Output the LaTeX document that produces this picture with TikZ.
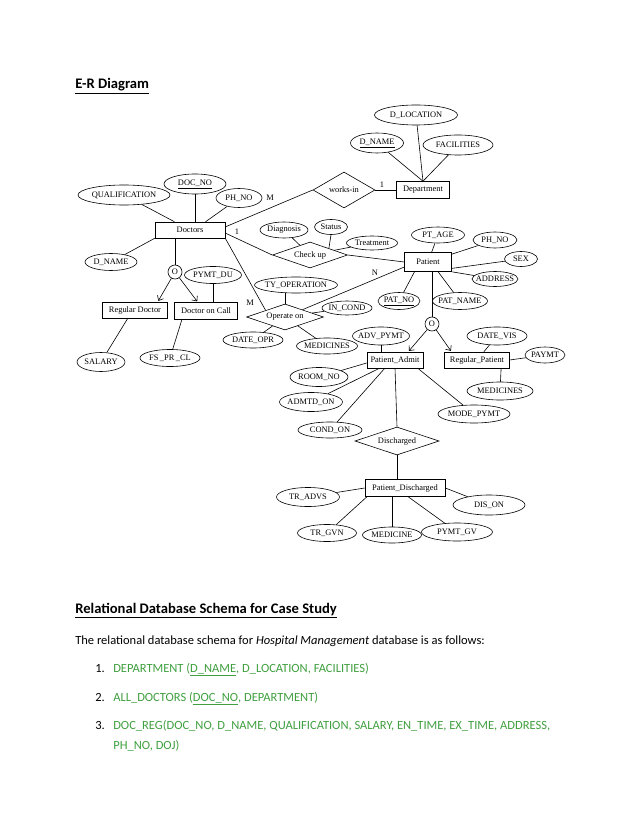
\documentclass[tikz,border=0pt]{standalone}
\usepackage{fontspec}
\setmainfont{Carlito}
\newfontfamily\erfont{Liberation Serif}
\usetikzlibrary{positioning, shapes.geometric, arrows.meta}
\definecolor{schemagreen}{RGB}{64,160,64}

\begin{document}
\begin{tikzpicture}[x=1pt, y=-1pt, line width=0.6pt,
  ER/.style={font=\erfont\fontsize{8.4pt}{10pt}\selectfont},
  Ent/.style={ER, draw, rectangle, inner sep=0pt},
  Attr/.style={ER, draw, ellipse, inner xsep=-10pt, inner ysep=0pt},
  Rel/.style={ER, draw, diamond, aspect=3, inner sep=0pt},
  Disj/.style={ER, draw, circle, inner sep=0pt, minimum size=14pt},
  Card/.style={ER, inner sep=0pt},
  Sub/.style={-{Straight Barb[length=4pt, width=7pt]}, shorten >=1pt},
  Txt/.style={anchor=base west, inner sep=0pt, font=\fontsize{12.5pt}{15pt}\selectfont},
  Head/.style={anchor=base west, inner sep=0pt, font=\bfseries\fontsize{14.6pt}{17pt}\selectfont}]
  \path[use as bounding box, fill=white] (0,0) rectangle (638,826);

  % page text
  \node[Head] (ERHead) at (75,89) {\underline{E-R Diagram}};
  \node[Head] (SchemaHead) at (75,613) {\underline{Relational Database Schema for Case Study}};
  \node[Txt] (Intro) at (75,644) {The relational database schema for \textit{Hospital Management} database is as follows:};
  \node[Txt] (Num1) at (95,672) {1.};
  \node[Txt, text=schemagreen] (Rel1) at (113,672) {DEPARTMENT (\underline{D\_NAME}, D\_LOCATION, FACILITIES)};
  \node[Txt] (Num2) at (95,701) {2.};
  \node[Txt, text=schemagreen] (Rel2) at (113,701) {ALL\_DOCTORS (\underline{DOC\_NO}, DEPARTMENT)};
  \node[Txt] (Num3) at (95,729) {3.};
  \node[Txt, text=schemagreen] (Rel3) at (113,729) {DOC\_REG(DOC\_NO, D\_NAME, QUALIFICATION, SALARY, EN\_TIME, EX\_TIME, ADDRESS,};
  \node[Txt, text=schemagreen] (Rel3b) at (113,749) {PH\_NO, DOJ)};

  % entities
  \node[Ent, minimum width=70pt, minimum height=16pt] (Doc) at (190,230) {Doctors};
  \node[Ent, minimum width=53pt, minimum height=17pt] (Dept) at (423,190) {Department};
  \node[Ent, minimum width=65pt, minimum height=16pt] (RegDoc) at (135,310) {Regular Doctor};
  \node[Ent, minimum width=63pt, minimum height=17pt] (OnCall) at (206,311) {Doctor on Call};
  \node[Ent, minimum width=47pt, minimum height=19pt] (Pat) at (428,262) {Patient};
  \node[Ent, minimum width=56pt, minimum height=16pt] (PAdmit) at (395,360) {Patient\_Admit};
  \node[Ent, minimum width=65pt, minimum height=16pt] (RegPat) at (477,360) {Regular\_Patient};
  \node[Ent, minimum width=80pt, minimum height=17pt] (PDis) at (405,488) {Patient\_Discharged};

  % relationships
  \node[Rel, minimum width=62pt, minimum height=36pt] (WorksIn) at (344,190) {works-in};
  \node[Rel, minimum width=75pt, minimum height=26pt] (CheckUp) at (310,255) {Check up};
  \node[Rel, minimum width=77pt, minimum height=26pt] (OperOn) at (285,317) {Operate on};
  \node[Rel, minimum width=84pt, minimum height=28pt] (Disch) at (397,441) {Discharged};
  \node[Disj] (ODoc) at (175,272) {O};
  \node[Disj] (OPat) at (432,324) {O};

  % attributes
  \node[Attr, minimum width=62pt, minimum height=20pt] (DocNo) at (195,184) {\underline{DOC\_NO}};
  \node[Attr, minimum width=92pt, minimum height=20pt] (Qual) at (124,195) {QUALIFICATION};
  \node[Attr, minimum width=46pt, minimum height=19pt] (PhNo) at (239,198) {PH\_NO};
  \node[Attr, minimum width=83pt, minimum height=20pt] (DLoc) at (416,115) {D\_LOCATION};
  \node[Attr, minimum width=53pt, minimum height=20pt] (DName) at (377,143) {\underline{D\_NAME}};
  \node[Attr, minimum width=70pt, minimum height=20pt] (Facil) at (458,145) {FACILITIES};
  \node[Attr, minimum width=52pt, minimum height=17pt] (DocName) at (111,262) {D\_NAME};
  \node[Attr, minimum width=57pt, minimum height=17pt] (PymtDu) at (213,275) {PYMT\_DU};
  \node[Attr, minimum width=48pt, minimum height=19pt] (Salary) at (101,362) {SALARY};
  \node[Attr, minimum width=60pt, minimum height=17pt] (FsPrCl) at (170,358) {FS\,\_PR\,\_CL};
  \node[Attr, minimum width=48pt, minimum height=16pt] (Diag) at (284,230) {Diagnosis};
  \node[Attr, minimum width=33pt, minimum height=15pt] (Status) at (331,227) {Status};
  \node[Attr, minimum width=51pt, minimum height=14pt] (Treat) at (372,243) {Treatment};
  \node[Attr, minimum width=83pt, minimum height=16pt] (TyOp) at (296,285) {TY\_OPERATION};
  \node[Attr, minimum width=60pt, minimum height=16pt] (DateOpr) at (253,340) {DATE\_OPR};
  \node[Attr, minimum width=61pt, minimum height=16pt] (MedOp) at (327,346) {MEDICINES};
  \node[Attr, minimum width=50pt, minimum height=14pt] (InCond) at (347,308) {IN\_COND};
  \node[Attr, minimum width=53pt, minimum height=16pt] (PtAge) at (438,235) {PT\_AGE};
  \node[Attr, minimum width=44pt, minimum height=16pt] (PatPh) at (495,240) {PH\_NO};
  \node[Attr, minimum width=33pt, minimum height=15pt] (Sex) at (521,259) {SEX};
  \node[Attr, minimum width=46pt, minimum height=15pt] (Addr) at (495,279) {ADDRESS};
  \node[Attr, minimum width=42pt, minimum height=17pt] (PatNo) at (399,301) {\underline{PAT\_NO}};
  \node[Attr, minimum width=55pt, minimum height=17pt] (PatName) at (460,301) {PAT\_NAME};
  \node[Attr, minimum width=57pt, minimum height=18pt] (AdvPymt) at (381,336) {ADV\_PYMT};
  \node[Attr, minimum width=60pt, minimum height=18pt] (DateVis) at (497,336) {DATE\_VIS};
  \node[Attr, minimum width=40pt, minimum height=16pt] (Paymt) at (545,355) {PAYMT};
  \node[Attr, minimum width=66pt, minimum height=18pt] (MedPat) at (500,391) {MEDICINES};
  \node[Attr, minimum width=58pt, minimum height=19pt] (RoomNo) at (319,377) {ROOM\_NO};
  \node[Attr, minimum width=63pt, minimum height=19pt] (Admtd) at (311,402) {ADMTD\_ON};
  \node[Attr, minimum width=64pt, minimum height=16pt] (CondOn) at (330,430) {COND\_ON};
  \node[Attr, minimum width=72pt, minimum height=18pt] (ModePymt) at (474,414) {MODE\_PYMT};
  \node[Attr, minimum width=63pt, minimum height=19pt] (TrAdvs) at (308,497) {TR\_ADVS};
  \node[Attr, minimum width=72pt, minimum height=20pt] (DisOn) at (489,505) {DIS\_ON};
  \node[Attr, minimum width=59pt, minimum height=17pt] (TrGvn) at (327,533) {TR\_GVN};
  \node[Attr, minimum width=59pt, minimum height=16pt] (Medicine) at (392,535) {MEDICINE};
  \node[Attr, minimum width=71pt, minimum height=18pt] (PymtGv) at (457,532) {PYMT\_GV};

  % cardinalities
  \node[Card] (CardM1) at (270,198) {M};
  \node[Card] (CardOne1) at (382,185) {1};
  \node[Card] (CardOne2) at (237,232) {1};
  \node[Card] (CardM2) at (250,303) {M};
  \node[Card] (CardN) at (375,273) {N};

  % doctors
  \draw (Qual) -- (Doc.152);
  \draw (DocNo.south) -- (DocNo.south |- Doc.north);
  \draw (PhNo) -- (Doc.28);
  \draw (Doc.5) -- (WorksIn.west);
  \draw (WorksIn.east) -- (Dept.west);
  \draw (DLoc) -- (Dept.north);
  \draw (DName) -- (Dept.north);
  \draw (Facil) -- (Dept.north);
  \draw (Doc.south west) -- (DocName);
  \draw (ODoc.north) -- (ODoc |- Doc.south);
  \draw[Sub] (ODoc) -- (RegDoc.20);
  \draw[Sub] (ODoc) -- (OnCall.133);
  \draw (PymtDu.south) -- (PymtDu.south |- OnCall.north);
  \draw (RegDoc.229) -- (Salary);
  \draw (OnCall.200) -- (FsPrCl);
  \draw (Doc.-5) -- (CheckUp.west);
  \draw (Doc.south east) -- (OperOn.north west);

  % check up and operate on
  \draw (Diag) -- (CheckUp);
  \draw (Status.south) -- (CheckUp.north east);
  \draw (Treat) -- (CheckUp);
  \draw (CheckUp.east) -- (Pat.west);
  \draw (Pat.192) -- (OperOn);
  \draw (OperOn.north) -- (OperOn.north |- TyOp.south);
  \draw (OperOn) -- (InCond);
  \draw (OperOn) -- (DateOpr);
  \draw (OperOn) -- (MedOp);

  % patient
  \draw (Pat) -- (PtAge);
  \draw (Pat) -- (PatPh);
  \draw (Pat.-15) -- (Sex);
  \draw (Pat.south east) -- (Addr);
  \draw (Pat.216) -- (PatNo);
  \draw (Pat.-44) -- (PatName);
  \draw (OPat.north) -- (OPat |- Pat.south);
  \draw[Sub] (OPat) -- (PAdmit.32);
  \draw[Sub] (OPat) -- (RegPat.162);
  \draw (AdvPymt.south) -- (AdvPymt.south |- PAdmit.north);
  \draw (DateVis) -- (RegPat);
  \draw (RegPat.east) -- (Paymt);
  \draw (RegPat.-19) -- (MedPat);
  \draw (PAdmit.186) -- (RoomNo);
  \draw (PAdmit.208) -- (Admtd);
  \draw (PAdmit.219) -- (CondOn);
  \draw (PAdmit.-20) -- (ModePymt);
  \draw (PAdmit.south) -- (Disch.north);
  \draw (Disch.south) -- (Disch.south |- PDis.north);

  % discharged
  \draw (TrAdvs) -- (PDis.west);
  \draw (PDis.east) -- (DisOn);
  \draw (PDis.193) -- (TrGvn);
  \draw (Medicine.north) -- (Medicine.north |- PDis.south);
  \draw (PDis.-70) -- (PymtGv);
\end{tikzpicture}
\end{document}
